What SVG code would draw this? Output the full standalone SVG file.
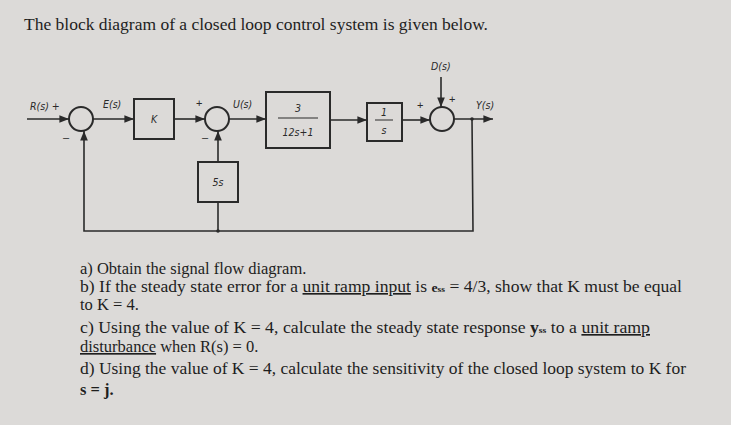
<svg xmlns="http://www.w3.org/2000/svg" width="731" height="425" viewBox="0 0 731 425">
<defs>
<style>
.t{font-family:"Liberation Serif",serif;font-size:16.5px;fill:#1e1e1e}
.d{font-family:"DejaVu Sans Condensed","DejaVu Sans",sans-serif;font-size:10.5px;font-style:italic;fill:#2a2a2a}
.s{font-family:"Liberation Sans",sans-serif;font-size:11px;fill:#2a2a2a}
.b{fill:none;stroke:#2a2a2a;stroke-width:2}
.l{fill:none;stroke:#2a2a2a;stroke-width:1.6}
</style>
<marker id="a" viewBox="0 0 10 10" refX="10" refY="5" markerWidth="6" markerHeight="6" orient="auto"><path d="M0,1L10,5L0,9z" fill="#2a2a2a"/></marker>
</defs>
<rect width="731" height="425" fill="#dcdad8"/>
<text class="t" x="24" y="30" font-size="17.5" textLength="464" lengthAdjust="spacingAndGlyphs">The block diagram of a closed loop control system is given below.</text>
<g id="sum1"><circle class="b" cx="81" cy="119" r="12"/><text class="s" x="63" y="141">–</text></g>
<g id="K"><rect class="b" x="134" y="99" width="40" height="40"/><text class="d" x="154" y="123" text-anchor="middle">K</text></g>
<g id="sum2"><circle class="b" cx="217" cy="119" r="12"/><text class="s" x="196" y="107">+</text><text class="s" x="202" y="141">–</text></g>
<g id="G1"><rect class="b" x="266" y="92" width="64" height="56"/><text class="d" x="298" y="112" text-anchor="middle">3</text><line x1="278" y1="118" x2="318" y2="118" stroke="#2a2a2a" stroke-width="1"/><text class="d" x="298" y="136" text-anchor="middle">12s+1</text></g>
<g id="G2"><rect class="b" x="367" y="103" width="35" height="38"/><text class="d" x="384" y="116" text-anchor="middle">1</text><line x1="375" y1="120" x2="393" y2="120" stroke="#2a2a2a" stroke-width="1"/><text class="d" x="384" y="134" text-anchor="middle">s</text></g>
<g id="sum3"><circle class="b" cx="442" cy="119" r="12"/><text class="s" x="417" y="109">+</text><text class="s" x="449" y="103">+</text></g>
<g id="H"><rect class="b" x="198" y="162" width="40" height="40"/><text class="d" x="218" y="186" text-anchor="middle">5s</text></g>
<g id="labels">
<text class="d" x="30" y="110">R(s) +</text>
<text class="d" x="103" y="108">E(s)</text>
<text class="d" x="233" y="108">U(s)</text>
<text class="d" x="431" y="70">D(s)</text>
<text class="d" x="476" y="109">Y(s)</text>
</g>
<g id="connectors">
<line class="l" x1="27" y1="119" x2="69" y2="119" marker-end="url(#a)"/>
<line class="l" x1="93" y1="119" x2="134" y2="119" marker-end="url(#a)"/>
<line class="l" x1="174" y1="119" x2="205" y2="119" marker-end="url(#a)"/>
<line class="l" x1="229" y1="119" x2="266" y2="119" marker-end="url(#a)"/>
<line class="l" x1="330" y1="120" x2="367" y2="120" marker-end="url(#a)"/>
<line class="l" x1="402" y1="120" x2="430" y2="120" marker-end="url(#a)"/>
<line class="l" x1="454" y1="119" x2="493" y2="119" marker-end="url(#a)"/>
<line class="l" x1="441" y1="77" x2="441" y2="107" marker-end="url(#a)"/>
<polyline class="l" points="472,119 473,231 84,231 84,131" marker-end="url(#a)"/>
<line class="l" x1="218" y1="231" x2="218" y2="202"/>
<line class="l" x1="218" y1="162" x2="218" y2="131" marker-end="url(#a)"/>
<circle cx="218" cy="231" r="1.8" fill="#2a2a2a"/><circle cx="472" cy="119" r="1.8" fill="#2a2a2a"/>
</g>
<g id="questions" class="t">
<text x="80" y="274">a) Obtain the signal flow diagram.</text>
<text x="80" y="292" textLength="602" lengthAdjust="spacingAndGlyphs">b) If the steady state error for a <tspan text-decoration="underline">unit ramp input</tspan> is <tspan font-weight="bold" font-size="13">e<tspan font-size="9">ss</tspan></tspan> = 4/3, show that K must be equal</text>
<text x="80" y="310">to K = 4.</text>
<text x="80" y="333" textLength="570" lengthAdjust="spacingAndGlyphs">c) Using the value of K = 4, calculate the steady state response <tspan font-weight="bold">y<tspan font-size="9">ss</tspan></tspan> to a <tspan text-decoration="underline">unit ramp</tspan></text>
<text x="80" y="352"><tspan text-decoration="underline">disturbance</tspan> when R(s) = 0.</text>
<text x="80" y="374" textLength="606" lengthAdjust="spacingAndGlyphs">d) Using the value of K = 4, calculate the sensitivity of the closed loop system to K for</text>
<text x="80" y="395" font-weight="bold">s = j.</text>
</g>
</svg>
